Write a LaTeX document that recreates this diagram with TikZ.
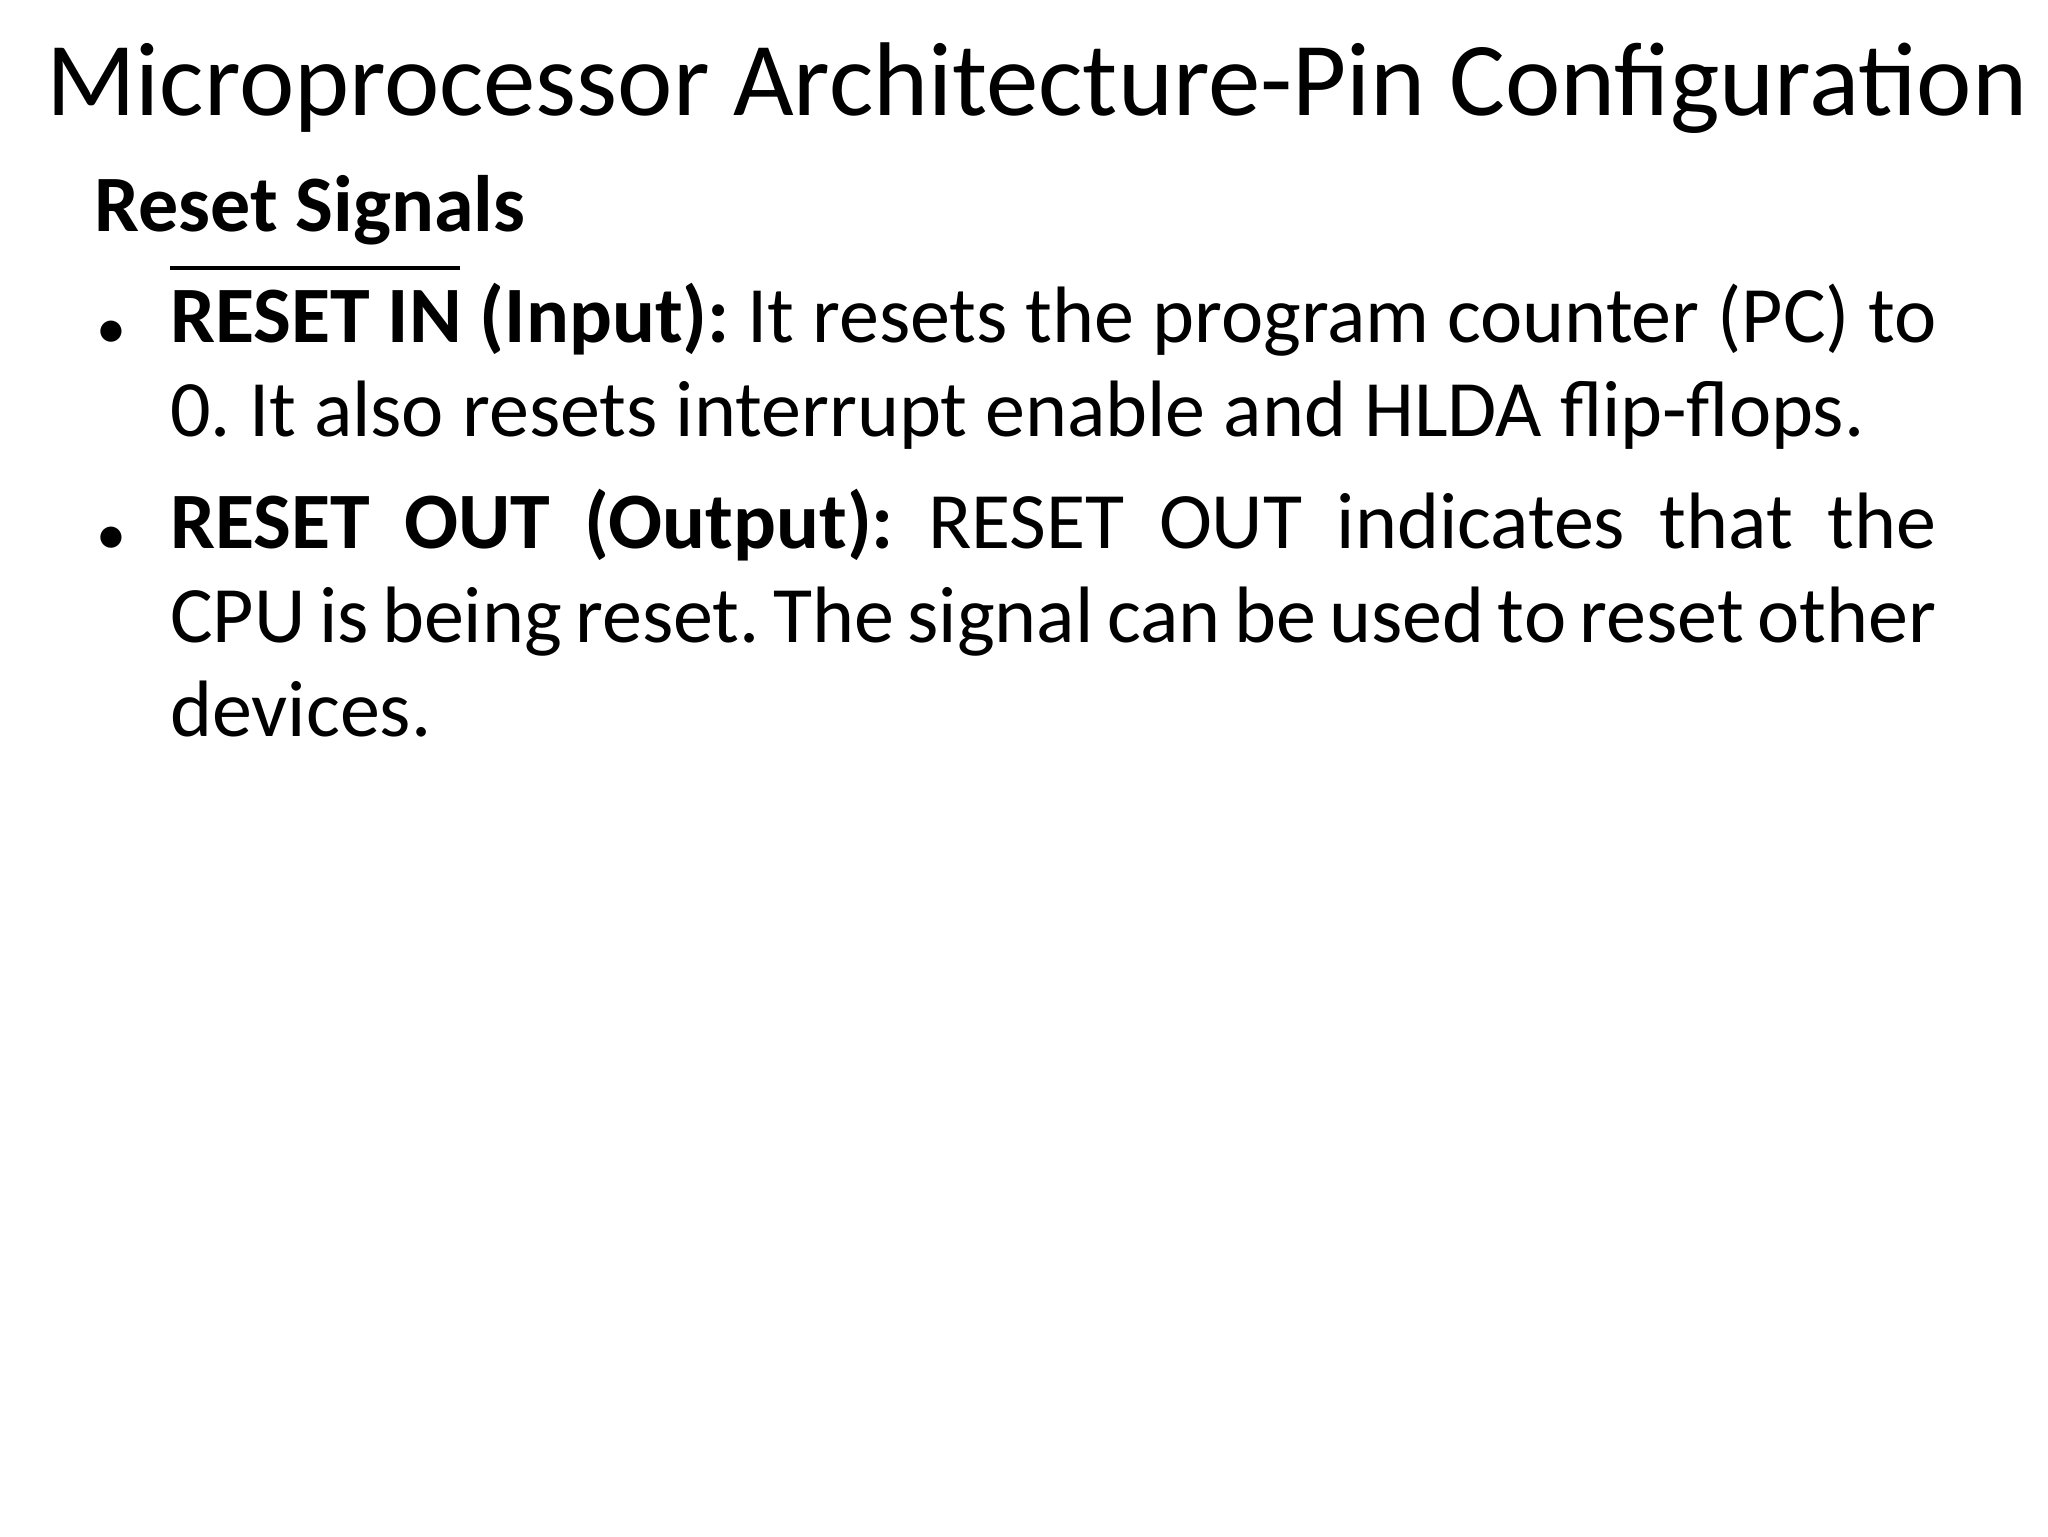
\documentclass[tikz,border=0pt]{standalone}
\usepackage{fontspec}
\setmainfont{Carlito}
\frenchspacing
\begin{document}
\begin{tikzpicture}[x=1pt,y=1pt,
  body/.style={anchor=base west,inner sep=0pt,text width=883pt,align=justify,font=\fontsize{40}{47}\selectfont},
  bul/.style={anchor=base west,inner sep=0pt,font=\fontsize{30}{47}\selectfont}]
\useasboundingbox[fill=white] (0,0) rectangle (1024,-768);
\node[anchor=base west,inner sep=0pt,font=\fontsize{52.4}{60}\selectfont] (title) at (22.9,-57.5) {Microprocessor Architecture-Pin Configuration};
\node[anchor=base west,inner sep=0pt,font=\fontsize{40}{47}\selectfont\bfseries] (head) at (47,-115.6) {Reset Signals};
\node[bul] (b1) at (48,-174) {•};
\node[body] (t1) at (84.9,-171) {\textbf{RESET IN (Input):} It resets the program counter (PC) to 0. It also resets interrupt enable and HLDA flip-flops.};
\node[bul] (b2) at (48,-277) {•};
\node[body] (t2) at (84.9,-274) {\textbf{RESET OUT (Output):} RESET OUT indicates that the\linebreak CPU is being reset. The signal can be used to reset other devices.};
\draw[line width=2.2pt] (84.9,-134) -- (229.9,-134);
\end{tikzpicture}
\end{document}
